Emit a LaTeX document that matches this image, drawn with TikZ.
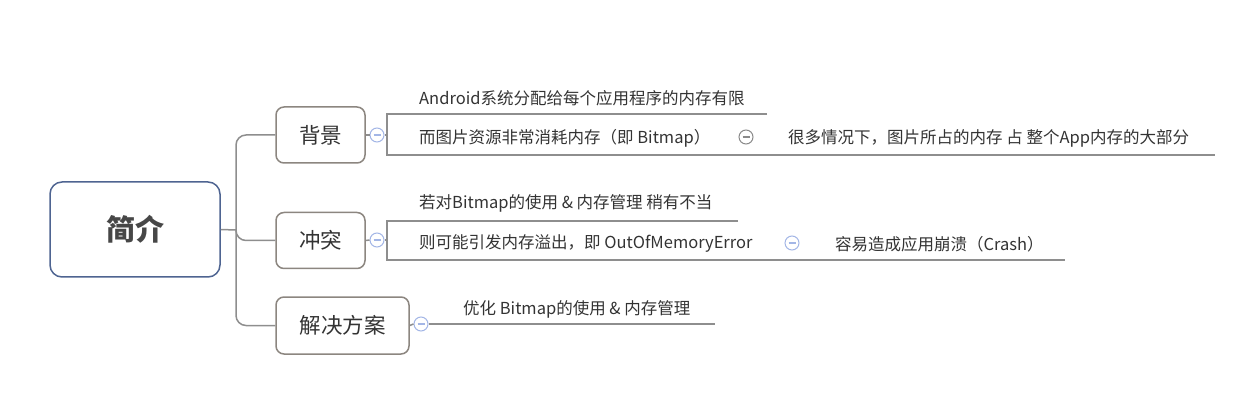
\documentclass[tikz,border=0pt]{standalone}
\usepackage{fontspec}
\setmainfont{Noto Sans CJK SC}
\definecolor{rootblue}{HTML}{4E6491}
\definecolor{boxgray}{HTML}{8C8680}
\definecolor{linegray}{HTML}{8E8E8E}
\definecolor{txt}{HTML}{333333}
\definecolor{cblue}{HTML}{A3B6E6}
\definecolor{cgray}{HTML}{8A8A8A}
\tikzset{
  rootbox/.style={draw=rootblue, line width=1.5pt, rounded corners=12pt, minimum width=170pt, minimum height=95pt, inner sep=0pt, font=\fontsize{29pt}{32pt}\selectfont\bfseries, text=txt!90},
  topicbox/.style={draw=boxgray, line width=1.5pt, rounded corners=8pt, minimum height=56pt, inner sep=0pt, font=\fontsize{21.5pt}{24pt}\selectfont, text=txt, fill=white},
  subtext/.style={anchor=west, inner sep=0pt, font=\fontsize{16.5pt}{19pt}\selectfont, text=txt},
  conn/.style={draw=linegray, line width=1.5pt},
  collapse/.style={circle, draw=#1, fill=white, minimum size=14pt, inner sep=0pt, line width=1pt,
    path picture={\draw[#1, line width=1.3pt] ([xshift=-3.5pt]path picture bounding box.center) -- ([xshift=3.5pt]path picture bounding box.center);}},
}
\begin{document}
\begin{tikzpicture}[x=1pt, y=-1pt]
\useasboundingbox (0,0) rectangle (1240,414);
% main nodes
\node[rootbox] (root) at (135,229.5) {简介};
\node[topicbox, minimum width=89pt] (bg) at (320.5,135) {背景};
\node[topicbox, minimum width=89pt] (ct) at (320.5,240.5) {冲突};
\node[topicbox, minimum width=133pt, minimum height=57pt] (jj) at (342.5,325.5) {解决方案};
\coordinate (trunk) at (236,230);
\draw[conn] (root.east) -- (trunk);
\draw[conn, rounded corners=10pt] (trunk) |- (bg.west);
\draw[conn, rounded corners=10pt] (trunk) |- (ct.west);
\draw[conn, rounded corners=10pt] (trunk) |- (jj.west);
% collapse buttons
\node[collapse=cblue] (c1) at (377,135) {};
\node[collapse=cblue] (c2) at (377,240) {};
\node[collapse=cblue] (c3) at (421,324) {};
% 背景 branch
\coordinate (b1) at (387,135);
\coordinate (b1t) at (387,114);
\coordinate (b1b) at (387,155);
\coordinate (b1te) at (767,114);
\coordinate (b1be) at (1215,155);
\draw[conn] (bg.east) -- (c1.west);
\draw[conn] (c1.east) -- (b1);
\draw[conn] (b1te) -- (b1t) -- (b1b) -- (b1be);
\node[subtext] (t11) at (419,98) {Android系统分配给每个应用程序的内存有限};
\node[subtext] (t12) at (419,138) {而图片资源非常消耗内存（即 Bitmap）};
\node[subtext] (t121) at (788,138) {很多情况下，图片所占的内存 占 整个App内存的大部分};
\node[collapse=cgray] (c11) at (746,137) {};
% 冲突 branch
\coordinate (b2) at (387,240);
\coordinate (b2t) at (387,221);
\coordinate (b2b) at (387,260);
\coordinate (b2te) at (738,221);
\coordinate (b2be) at (1065,260);
\draw[conn] (ct.east) -- (c2.west);
\draw[conn] (c2.east) -- (b2);
\draw[conn] (b2te) -- (b2t) -- (b2b) -- (b2be);
\node[subtext] (t21) at (419,203) {若对Bitmap的使用 \& 内存管理 稍有不当};
\node[subtext] (t22) at (419,243) {则可能引发内存溢出，即 OutOfMemoryError};
\node[subtext] (t221) at (835,244) {容易造成应用崩溃（Crash）};
\node[collapse=cblue] (c21) at (792,243) {};
% 解决方案 branch
\coordinate (b3e) at (715,324);
\draw[conn] (jj.east) -- (c3.west);
\draw[conn] (c3.east) -- (b3e);
\node[subtext] (t31) at (463,309) {优化 Bitmap的使用 \& 内存管理};
\end{tikzpicture}
\end{document}
